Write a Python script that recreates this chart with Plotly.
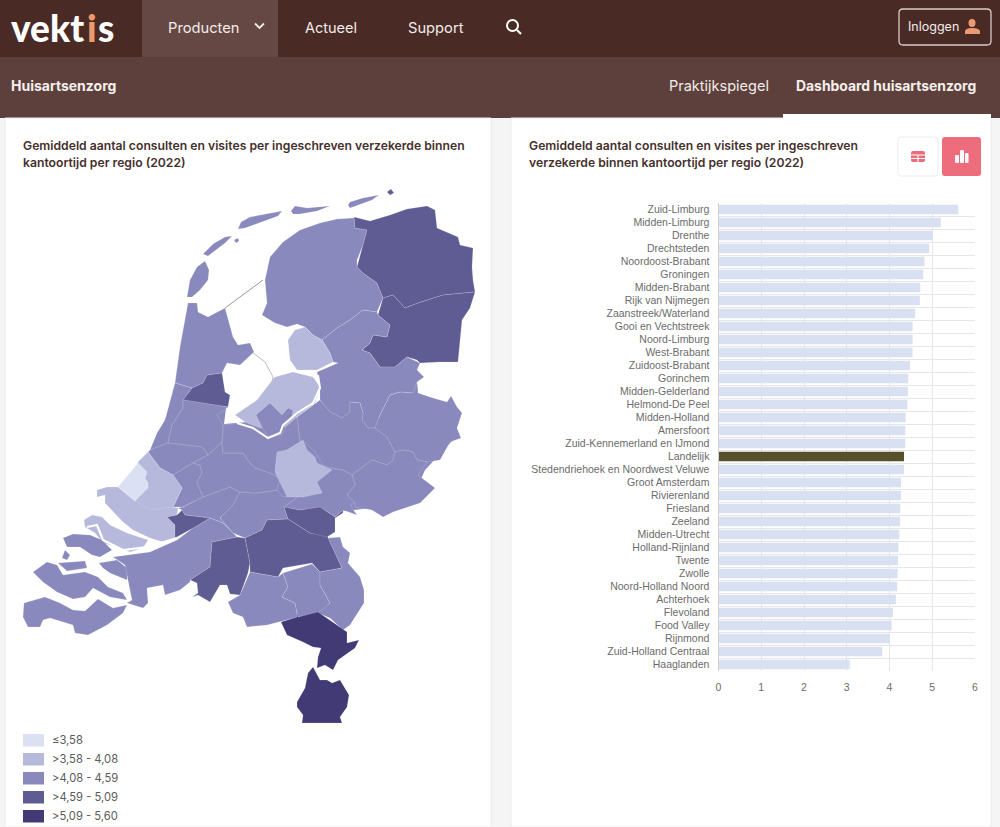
import plotly.graph_objects as go

# ---------- chart data ----------
CATEGORIES = ["Zuid-Limburg","Midden-Limburg","Drenthe","Drechtsteden","Noordoost-Brabant","Groningen",
 "Midden-Brabant","Rijk van Nijmegen","Zaanstreek/Waterland","Gooi en Vechtstreek","Noord-Limburg","West-Brabant",
 "Zuidoost-Brabant","Gorinchem","Midden-Gelderland","Helmond-De Peel","Midden-Holland","Amersfoort",
 "Zuid-Kennemerland en IJmond","Landelijk","Stedendriehoek en Noordwest Veluwe","Groot Amsterdam","Rivierenland",
 "Friesland","Zeeland","Midden-Utrecht","Holland-Rijnland","Twente","Zwolle","Noord-Holland Noord","Achterhoek",
 "Flevoland","Food Valley","Rijnmond","Zuid-Holland Centraal","Haaglanden"]
VALUES = [5.61,5.20,5.01,4.93,4.82,4.79,4.72,4.71,4.60,4.54,4.54,4.54,4.48,4.44,4.43,4.42,4.38,4.37,4.37,4.34,4.34,
 4.27,4.27,4.25,4.25,4.23,4.21,4.20,4.19,4.18,4.15,4.08,4.05,4.01,3.83,3.07]
X_TICKS = [0,1,2,3,4,5,6]
LEGEND_LABELS = ["≤3,58",">3,58 - 4,08",">4,08 - 4,59",">4,59 - 5,09",">5,09 - 5,60"]
BIN_UPPER = [3.58,4.08,4.59,5.09,5.60]
BIN_COLOURS = ["#dbe1f3","#b6b9dc","#8a89bd","#5f5c93","#423a75"]

# Region outlines (map units), one list per part
MAINLAND_BASE = [(178,390),(226,408),(224,424),(296,418),(318,402),(380,418),(417,392),(455,438),(425,470),(410,503),(372,508),(345,511),(285,508),(210,518),(180,485),(150,452),(165,420)]
FRIESLAND = [
 [(354,218),(337,219),(320,223),(300,230),(283,242),(270,257),(265,280),(267,303),(262,315),(275,323),(287,327),(297,324),(305,327),(313,335),(322,340),(337,328),(350,320),(363,310),(377,312),(383,298),(377,283),(363,273),(357,267),(357,260),(363,245),(367,230),(355,228)],
 [(238,229),(241,222),(250,217),(270,213),(282,211),(278,216),(262,222),(245,228)],
 [(291,211),(295,206),(307,208),(330,206),(317,211),(300,214),(293,214)],
 [(348,205),(350,202),(363,198),(379,195),(372,200),(357,206),(350,208)],
 [(203,254),(213,244),(225,237),(232,236),(225,243),(217,249),(208,256)],
 [(234,240),(238,238),(239,241),(236,243)]]
GRONINGEN = [
 [(354,217),(370,221),(390,215),(407,209),(427,206),(435,210),(437,228),(458,237),(460,245),(473,248),(472,267),(473,280),(475,292),(443,295),(418,303),(405,308),(393,295),(383,298),(377,283),(363,273),(357,267),(363,245),(367,230),(355,228)],
 [(387,192),(391,189),(394,193),(390,195)]]
DRENTHE = [[(383,298),(393,295),(405,308),(418,303),(443,295),(475,292),(470,308),(462,320),(458,362),(440,362),(420,363),(417,360),(407,357),(395,367),(380,367),(370,353),(362,350),(370,343),(373,335),(387,337),(390,325),(378,315)]]
ZWOLLE = [[(322,340),(337,328),(350,320),(363,310),(377,312),(378,315),(390,325),(387,337),(373,335),(370,343),(362,350),(370,353),(380,367),(395,367),(407,357),(420,363),(417,370),(424,377),(417,382),(418,393),(413,393),(400,392),(390,395),(380,415),(375,428),(368,428),(362,420),(363,413),(360,403),(350,402),(350,412),(342,418),(330,412),(320,400),(320,387),(317,372),(338,363),(333,362),(330,353)]]
STEDENDRIEHOEK = [[(320,400),(330,412),(342,418),(350,412),(350,402),(360,403),(363,413),(362,420),(368,428),(375,428),(387,437),(395,452),(393,460),(387,465),(372,460),(352,475),(343,470),(331,468),(323,465),(315,452),(305,442),(300,442),(297,417),(315,403)]]
FLEVOLAND = [
 [(305,327),(313,335),(322,340),(330,353),(333,362),(317,370),(297,370),(290,360),(288,340),(295,330)],
 [(235,415),(257,400),(270,383),(275,377),(293,372),(313,377),(320,387),(315,403),(297,417),(285,427),(270,425),(260,428),(245,422)]]
GOOI = [[(256,415),(270,403),(282,415),(288,408),(293,410),(292,417),(283,425),(282,433),(268,437),(262,427)]]
TWENTE = [[(417,382),(418,393),(433,398),(447,402),(451,396),(457,407),(462,413),(457,428),(461,438),(450,442),(440,460),(427,462),(417,460),(413,452),(403,450),(395,452),(387,437),(375,428),(380,415),(390,395),(400,392),(413,393)]]
ACHTERHOEK = [[(395,452),(393,460),(387,465),(372,460),(352,475),(355,485),(347,495),(355,503),(355,507),(372,510),(383,517),(393,512),(420,503),(435,488),(418,475),(427,462),(417,460),(413,452),(403,450)]]
MIDDEN_GELDERLAND = [[(300,495),(310,492),(322,492),(315,480),(331,468),(343,470),(352,475),(355,485),(347,495),(355,503),(350,505),(357,515),(343,510),(335,517),(320,507),(300,510),(284,507)]]
NH_NOORD = [
 [(188,303),(197,303),(198,312),(208,317),(225,308),(233,337),(238,345),(250,343),(254,352),(240,365),(227,363),(222,373),(207,375),(203,383),(192,388),(175,383),(180,347)],
 [(187,297),(190,280),(197,267),(205,261),(209,270),(208,280),(200,290),(192,297)]]
ZAANSTREEK = [[(207,375),(222,373),(225,392),(230,395),(228,407),(203,403),(183,400),(192,388),(203,383)]]
KENNEMERLAND = [[(175,383),(192,388),(183,400),(183,408),(172,425),(168,443),(150,450),(157,433),(165,420),(172,395)]]
AMSTERDAM = [[(183,400),(203,403),(228,407),(217,415),(223,425),(223,432),(222,442),(208,455),(202,447),(183,445),(168,443),(172,425),(183,408)]]
RIJNLAND = [[(148,452),(150,450),(168,443),(183,445),(202,447),(208,455),(193,463),(173,475),(160,468)]]
MIDDEN_HOLLAND = [[(173,475),(193,463),(200,465),(202,473),(197,482),(203,497),(183,507),(173,507),(182,488)]]
GORINCHEM = [[(178,508),(183,507),(203,497),(230,487),(240,492),(233,505),(220,518),(233,533),(237,537),(223,523),(210,518),(185,515),(182,510)]]
RIVIERENLAND = [[(240,492),(257,493),(277,490),(283,497),(300,495),(284,507),(288,519),(267,520),(262,530),(245,538),(233,533),(220,518),(233,505)]]
MIDDEN_UTRECHT = [[(208,455),(222,442),(223,453),(243,453),(250,463),(255,468),(270,473),(280,478),(277,490),(257,493),(240,492),(230,487),(203,497),(197,482),(202,473),(200,465),(193,463)]]
AMERSFOORT = [[(223,425),(237,423),(250,427),(267,438),(282,435),(285,428),(297,417),(300,442),(287,450),(277,457),(275,470),(280,478),(270,473),(255,468),(250,463),(243,453),(223,453),(222,442),(223,432)]]
FOOD_VALLEY = [[(275,472),(277,452),(287,450),(303,440),(307,450),(315,457),(317,463),(332,470),(317,482),(322,493),(303,497),(287,497)]]
RIJNMOND = [
 [(138,462),(148,452),(160,468),(173,475),(182,488),(173,507),(178,508),(177,515),(167,517),(175,525),(176,539),(163,542),(150,538),(133,530),(123,522),(105,503),(105,495),(97,497),(97,490),(107,487),(118,487),(135,501)],
 [(84,520),(92,515),(102,517),(110,525),(127,533),(148,540),(143,548),(130,552),(117,547),(103,543),(95,533),(85,527)]]
ZH_CENTRAAL = [[(135,501),(148,488),(148,483),(145,478),(147,472),(138,462),(148,452),(160,468),(173,475),(182,488),(173,507),(150,510)]]
HAAGLANDEN = [[(118,487),(138,463),(147,472),(145,478),(148,483),(148,488),(135,501)]]
ZEELAND = [
 [(63,538),(73,534),(90,535),(102,540),(112,550),(100,557),(92,555),(80,547),(67,547)],
 [(62,558),(65,550),(70,555),(67,560)],
 [(99,563),(117,560),(127,568),(127,580),(110,573),(103,568)],
 [(58,563),(85,561),(87,568),(67,571)],
 [(33,572),(47,562),(57,565),(63,575),(85,572),(98,577),(108,587),(123,593),(127,600),(110,597),(93,588),(85,597),(73,599),(57,592),(43,582)],
 [(24,603),(45,597),(60,603),(73,610),(85,611),(98,599),(113,608),(127,605),(123,613),(107,625),(88,635),(75,633),(73,625),(50,618),(43,620),(40,627),(28,627),(23,617)]]
WEST_BRABANT = [[(210,518),(223,523),(237,537),(212,542),(210,567),(190,580),(190,582),(180,590),(165,595),(163,585),(147,588),(148,603),(143,608),(127,603),(132,600),(128,580),(125,565),(113,557),(127,555),(150,552),(177,540),(193,528)]]
DRECHTSTEDEN = [[(167,517),(177,515),(182,510),(185,515),(210,518),(195,527),(175,538),(175,525)]]
MIDDEN_BRABANT = [[(212,542),(237,537),(245,538),(250,563),(248,573),(240,595),(230,594),(227,585),(220,585),(210,602),(198,595),(192,597),(198,593),(197,583),(190,580),(210,567)]]
NOORDOOST_BRABANT = [[(245,538),(262,530),(267,520),(288,519),(310,533),(327,535),(342,568),(320,572),(312,563),(283,568),(278,577),(250,572),(250,563)]]
NIJMEGEN = [[(284,507),(300,510),(320,507),(335,517),(343,510),(343,513),(335,518),(335,532),(327,537),(310,533),(288,519)]]
ZUIDOOST_BRABANT = [[(250,572),(278,577),(283,573),(288,587),(282,597),(295,603),(298,617),(280,622),(267,625),(247,627),(243,617),(233,613),(228,602),(240,595)]]
HELMOND = [[(283,573),(312,564),(320,572),(320,585),(330,603),(320,613),(298,617),(295,603),(282,597),(288,587)]]
NOORD_LIMBURG = [[(328,538),(340,537),(343,547),(350,553),(348,563),(360,577),(364,590),(364,603),(350,625),(343,630),(330,618),(318,613),(330,603),(320,585),(320,572),(342,568)]]
MIDDEN_LIMBURG = [[(281,622),(297,617),(297,612),(298,617),(318,612),(343,630),(347,632),(347,643),(359,640),(355,648),(338,660),(333,670),(325,665),(317,668),(318,657),(321,648),(313,647),(303,642),(287,635)]]
ZUID_LIMBURG = [[(313,667),(320,680),(327,680),(332,683),(340,680),(349,695),(347,707),(340,717),(342,723),(302,723),(303,715),(297,707),(297,702),(305,688),(308,673)]]

MAP_REGIONS = {"Friesland":FRIESLAND,"Groningen":GRONINGEN,"Drenthe":DRENTHE,"Zwolle":ZWOLLE,
 "Stedendriehoek en Noordwest Veluwe":STEDENDRIEHOEK,"Flevoland":FLEVOLAND,"Gooi en Vechtstreek":GOOI,"Twente":TWENTE,
 "Achterhoek":ACHTERHOEK,"Midden-Gelderland":MIDDEN_GELDERLAND,"Noord-Holland Noord":NH_NOORD,
 "Zaanstreek/Waterland":ZAANSTREEK,"Zuid-Kennemerland en IJmond":KENNEMERLAND,"Groot Amsterdam":AMSTERDAM,
 "Holland-Rijnland":RIJNLAND,"Midden-Holland":MIDDEN_HOLLAND,"Gorinchem":GORINCHEM,"Rivierenland":RIVIERENLAND,
 "Midden-Utrecht":MIDDEN_UTRECHT,"Amersfoort":AMERSFOORT,"Food Valley":FOOD_VALLEY,"Rijnmond":RIJNMOND,
 "Zuid-Holland Centraal":ZH_CENTRAAL,"Haaglanden":HAAGLANDEN,"Zeeland":ZEELAND,"West-Brabant":WEST_BRABANT,
 "Drechtsteden":DRECHTSTEDEN,"Midden-Brabant":MIDDEN_BRABANT,"Noordoost-Brabant":NOORDOOST_BRABANT,
 "Rijk van Nijmegen":NIJMEGEN,"Zuidoost-Brabant":ZUIDOOST_BRABANT,"Helmond-De Peel":HELMOND,
 "Noord-Limburg":NOORD_LIMBURG,"Midden-Limburg":MIDDEN_LIMBURG,"Zuid-Limburg":ZUID_LIMBURG}

# waterways and dikes drawn over the map
FLEVO_SHORE = [(318,375),(320,388),(313,403),(297,413),(283,425),(280,433),(268,438),(253,428),(237,423)]
RIVER = [(87,527),(97,525),(103,540),(123,550),(147,547),(177,538)]
AFSLUITDIJK = [(225,308),(263,280)]
HOUTRIBDIJK = [(253,353),(265,362),(273,377),(272,383)]

# ---------- styles ----------
UI = "Inter"
BAR = "#d9e0f2"
NATIONAL = "#55512c"
lookup = dict(zip(CATEGORIES, VALUES))

def bin_colour(v):
    for up, c in zip(BIN_UPPER, BIN_COLOURS):
        if v <= up:
            return c
    return BIN_COLOURS[-1]

fig = go.Figure()

fig.add_trace(go.Scatter(x=[p[0] for p in MAINLAND_BASE] + [MAINLAND_BASE[0][0]], y=[p[1] for p in MAINLAND_BASE] + [MAINLAND_BASE[0][1]],
    mode="lines", fill="toself", fillcolor=BIN_COLOURS[2], line=dict(width=0), hoverinfo="skip", showlegend=False, xaxis="x", yaxis="y"))

for name, rings in MAP_REGIONS.items():
    xs, ys = [], []
    for ring in rings:
        xs += [p[0] for p in ring] + [ring[0][0], None]
        ys += [p[1] for p in ring] + [ring[0][1], None]
    fig.add_trace(go.Scatter(x=xs, y=ys, mode="lines", fill="toself", name=name,
        fillcolor=bin_colour(lookup[name]), line=dict(color="rgba(255,255,255,0.22)", width=0.7),
        hoverinfo="name", showlegend=False, xaxis="x", yaxis="y"))

for pts, col, w in [(FLEVO_SHORE, "#ffffff", 2), (RIVER, "#ffffff", 2.2), (AFSLUITDIJK, "#9a9a9a", 1), (HOUTRIBDIJK, "#bdbdbd", 1)]:
    fig.add_trace(go.Scatter(x=[p[0] for p in pts], y=[p[1] for p in pts], mode="lines",
        line=dict(color=col, width=w), hoverinfo="skip", showlegend=False, xaxis="x", yaxis="y"))

fig.add_trace(go.Bar(y=CATEGORIES, x=VALUES, orientation="h", width=0.72,
    marker=dict(color=[NATIONAL if c == "Landelijk" else BAR for c in CATEGORIES], line=dict(width=0)),
    showlegend=False, xaxis="x2", yaxis="y2"))

shapes, notes = [], []
def rect(x0, y0, x1, y1, fill, line=None, lw=1):
    shapes.append(dict(type="rect", x0=x0, y0=y0, x1=x1, y1=y1, xref="x", yref="y", layer="below",
        fillcolor=fill, line=dict(color=line or "rgba(0,0,0,0)", width=lw if line else 0)))
def path(d, fill=None, line=None, lw=1.5, layer="above"):
    shapes.append(dict(type="path", path=d, xref="x", yref="y", layer=layer,
        fillcolor=fill or "rgba(0,0,0,0)", line=dict(color=line or "rgba(0,0,0,0)", width=lw if line else 0)))
def rrect(x0, y0, x1, y1, r):
    return (f"M{x0+r},{y0} L{x1-r},{y0} Q{x1},{y0} {x1},{y0+r} L{x1},{y1-r} Q{x1},{y1} {x1-r},{y1} "
            f"L{x0+r},{y1} Q{x0},{y1} {x0},{y1-r} L{x0},{y0+r} Q{x0},{y0} {x0+r},{y0} Z")
def text(x, y, s, size, color, weight=400, family=UI, anchor="left"):
    notes.append(dict(x=x, y=y, xref="x", yref="y", text=s, showarrow=False, xanchor=anchor, yanchor="middle",
        align=anchor, font=dict(family=family, size=size, color=color, weight=weight)))

# page frame
rect(0, 0, 1000, 57, "#4a2a25")
rect(0, 57, 1000, 118, "#5d403b")
rect(142, 0, 278, 57, "#654843")
rect(5, 118, 491, 827, "#ffffff", "#ececec")
rect(511, 118, 991, 827, "#ffffff", "#ececec")
rect(783, 114, 991, 119, "#ffffff")

# header texts and icons
text(86, 27, "vekt", 37, "#ffffff", 900, "Lato", "right")
text(92, 27, "i", 37, "#ec9a6e", 900, "Lato", "center")
text(96, 27, "s", 37, "#ffffff", 900, "Lato", "left")
text(166, 27.5, "Producten", 14.7, "#f1ecea")
path("M255,23.5 L259.5,28 L264,23.5", line="#f1ecea", lw=1.8)
text(303, 27.5, "Actueel", 14.5, "#f1ecea")
text(406, 27.5, "Support", 14.7, "#f1ecea")
shapes.append(dict(type="circle", x0=507, y0=20, x1=518, y1=31, xref="x", yref="y", line=dict(color="#ffffff", width=2)))
path("M517,30 L521,34", line="#ffffff", lw=2.2)
path(rrect(899, 9, 991, 45, 4), line="#d8cbc7", lw=1.3)
text(906, 26.5, "Inloggen", 12.5, "#f1ecea")
shapes.append(dict(type="circle", x0=968.5, y0=19, x1=975.5, y1=27, xref="x", yref="y", fillcolor="#ec9a6e", line=dict(width=0)))
path("M965,34 L965,31 Q966,28 972,28 Q979,28 980,31 L980,34 Z", fill="#ec9a6e")
text(9, 85.5, "Huisartsenzorg", 14, "#f4efed", 700)
text(667, 85.5, "Praktijkspiegel", 14.5, "#f1ecea")
text(794, 85.5, "Dashboard huisartsenzorg", 13.9, "#f4efed", 700)

# card titles
text(21, 145, "Gemiddeld aantal consulten en visites per ingeschreven verzekerde binnen", 12.2, "#45302c", 600)
text(21, 162, "kantoortijd per regio (2022)", 12.2, "#45302c", 600)
text(527, 145, "Gemiddeld aantal consulten en visites per ingeschreven", 12.2, "#45302c", 600)
text(527, 162, "verzekerde binnen kantoortijd per regio (2022)", 12.2, "#45302c", 600)

# view buttons
path(rrect(898, 137, 938, 176, 3), fill="#ffffff", line="#ececec", lw=1)
path(rrect(911, 151, 925, 162, 2), fill="#ea6c7b")
path("M911,155 L925,155 M918,155 L918,162 M911,158.5 L925,158.5", line="#ffffff", lw=1)
path(rrect(942, 137, 981, 176, 3), fill="#ee6d7c")
path(rrect(955, 155, 959, 163, 1), fill="#ffffff")
path(rrect(960, 150, 964, 163, 1), fill="#ffffff")
path(rrect(965, 153, 968.5, 163, 1), fill="#ffffff")

# map legend
for i, (lab, col) in enumerate(zip(LEGEND_LABELS, BIN_COLOURS)):
    top = 734 + i * 19
    rect(23, top, 44, top + 12.5, col)
    text(50, top + 6, lab, 11.2, "#5a5a5a")

PAGE_H = 827
fig.update_layout(
    width=1000, height=827, autosize=False, margin=dict(l=0, r=0, t=0, b=0, autoexpand=False),
    paper_bgcolor="#f5f5f5", plot_bgcolor="rgba(0,0,0,0)", bargap=0.28, showlegend=False,
    shapes=shapes, annotations=notes, font=dict(family="Liberation Sans"),
    xaxis=dict(domain=[0, 1], range=[0, 1000], visible=False, fixedrange=True),
    yaxis=dict(domain=[0, 1], range=[827, 0], visible=False, fixedrange=True),
    xaxis2=dict(domain=[0.7185, 0.975], range=[0, 6], tickvals=X_TICKS, anchor="y2", gridcolor="#e6e6e6", gridwidth=1,
        zeroline=False, showline=False, tickfont=dict(family="Liberation Sans", size=10.5, color="#6b6b6b"), ticks="", ticklabelstandoff=8),
    yaxis2=dict(domain=[1 - 671 / PAGE_H, 1 - 203 / PAGE_H], anchor="x2", categoryorder="array", categoryarray=CATEGORIES,
        autorange="reversed", tickson="boundaries", gridcolor="#e6e6e6", gridwidth=1, showline=True, linecolor="#d0d0d0", linewidth=1,
        mirror=False, zeroline=False, dtick=1, ticks="", ticklabelstandoff=6,
        tickfont=dict(family="Liberation Sans", size=10.5, color="#6b6b6b")),
)
fig.write_html("out.html", config=dict(displayModeBar=False),
    post_script="document.body.style.margin='0';document.body.style.overflow='hidden';")
